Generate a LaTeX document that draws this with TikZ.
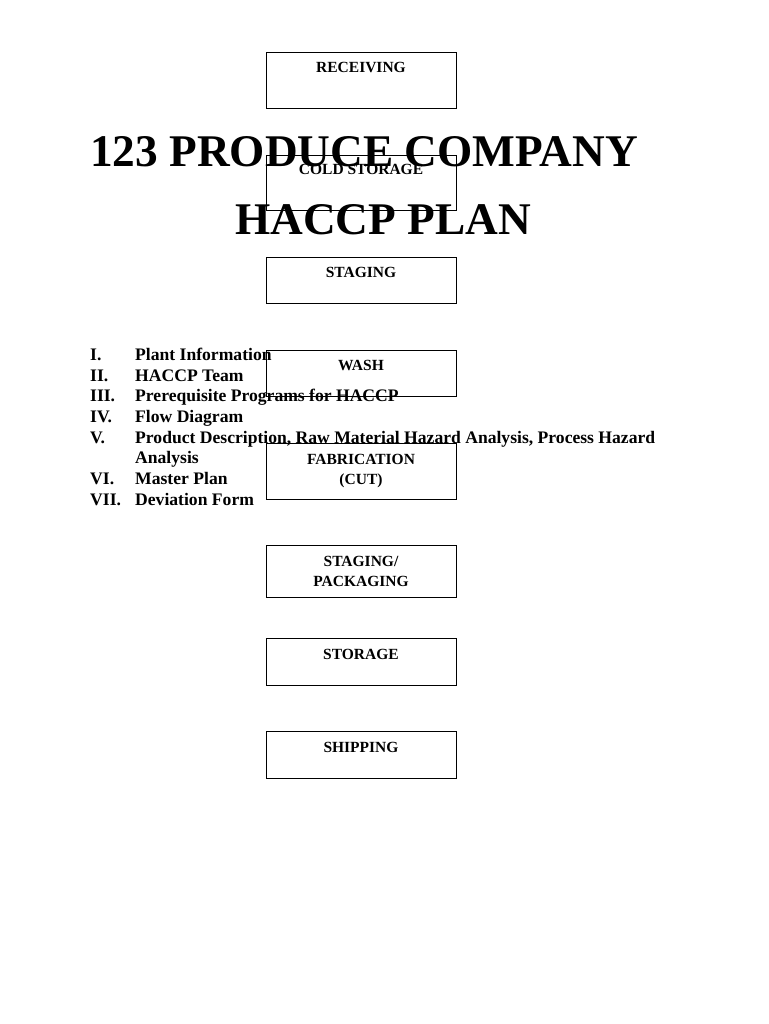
\documentclass[tikz,border=0pt]{standalone}
\usepackage{fontspec}
\setmainfont{Liberation Serif}
\begin{document}
\begin{tikzpicture}[x=1pt,y=-1pt,
  box/.style={draw,line width=0.8pt,minimum width=190pt,anchor=north west,inner sep=0pt},
  lbl/.style={font=\bfseries\fontsize{15.5}{20}\selectfont,anchor=base,align=center},
  itm/.style={font=\bfseries\fontsize{17.6}{20.6}\selectfont,anchor=base west,inner sep=0pt}]
\useasboundingbox (0,0) rectangle (768,1024);
\foreach \n/\t/\h in {b1/52/56,b2/155/55,b3/257/46,b4/350/46,b5/443/56,b6/545/52,b7/638/47,b8/731/47}
  \node[box,minimum height=\h pt] (\n) at (266,\t) {};
\node[lbl] (l1) at (361,73) {RECEIVING};
\node[lbl] (l2) at (361,175) {COLD STORAGE};
\node[lbl] (l3) at (361,277) {STAGING};
\node[lbl] (l4) at (361,370) {WASH};
\node[lbl] (l5) at (361,484) {FABRICATION\\(CUT)};
\node[lbl] (l6) at (361,586) {STAGING/\\PACKAGING};
\node[lbl] (l7) at (361,659) {STORAGE};
\node[lbl] (l8) at (361,752) {SHIPPING};
\node[font=\bfseries\fontsize{45.3}{50}\selectfont,anchor=base] (t1) at (364,167) {123 PRODUCE COMPANY};
\node[font=\bfseries\fontsize{45.3}{50}\selectfont,anchor=base] (t2) at (383,234) {HACCP PLAN};
\foreach \r/\y/\txt in {I./360/Plant Information,II./381/HACCP Team,III./401/Prerequisite Programs for HACCP,IV./422/Flow Diagram,V./443/{Product Description, Raw Material Hazard Analysis, Process Hazard},/463/Analysis,VI./484/Master Plan,VII./505/Deviation Form}{
  \node[itm] (n\y) at (90,\y) {\r};
  \node[itm] (x\y) at (135,\y) {\txt};
}
\end{tikzpicture}
\end{document}
